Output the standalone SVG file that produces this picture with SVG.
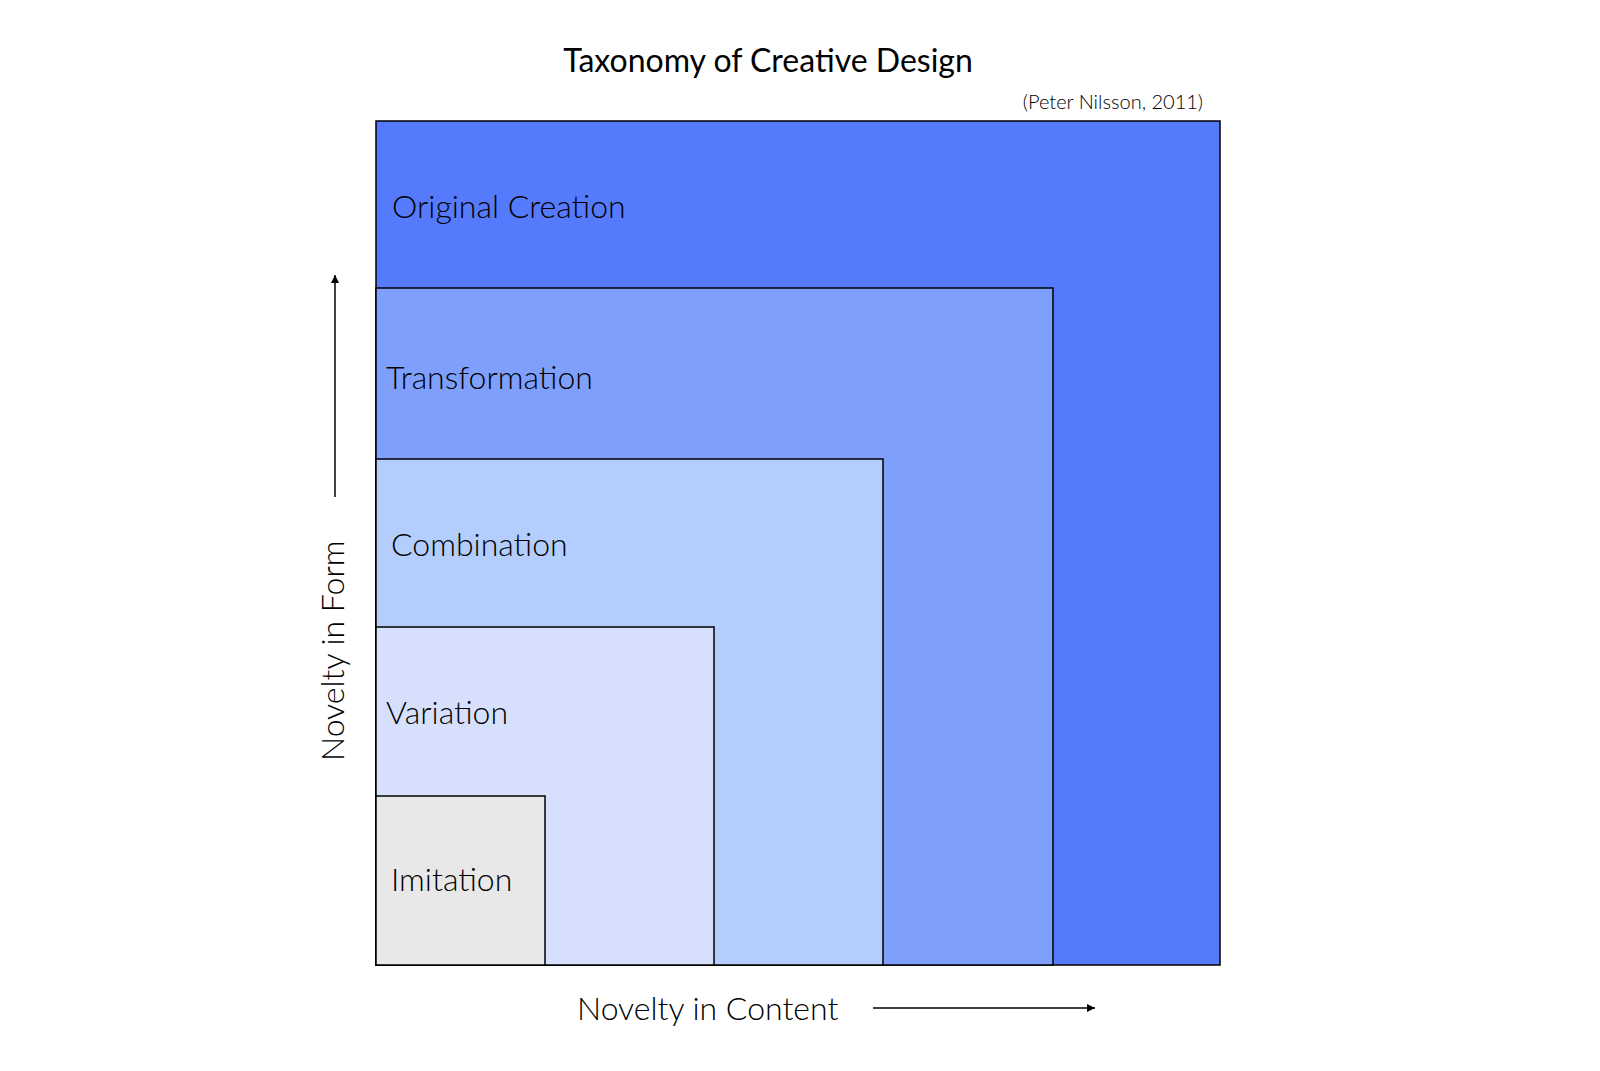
<svg xmlns="http://www.w3.org/2000/svg" width="1600" height="1071" viewBox="0 0 1600 1071">
<defs>
<style>
text{font-family:Lato,"Open Sans","Liberation Sans",sans-serif;fill:#000}
.lbl{font-size:32px;font-weight:300}
.box{stroke:#000;stroke-width:1.5}
.ax{stroke:#000;stroke-width:1.5;fill:none}
</style>
<marker id="ah" viewBox="0 0 10 10" refX="10" refY="5" markerWidth="8" markerHeight="8" orient="auto" markerUnits="userSpaceOnUse">
<path d="M0,0 L10,5 L0,10 z" fill="#000"/>
</marker>
</defs>
<rect width="1600" height="1071" fill="#fff"/>
<text x="768" y="72" text-anchor="middle" font-size="32">Taxonomy of Creative Design</text>
<text x="1203" y="109" text-anchor="end" font-size="20" font-weight="300">(Peter Nilsson, 2011)</text>
<g id="original-creation"><rect class="box" x="376" y="121" width="844" height="844" fill="#557bfc"/><text class="lbl" x="392" y="218">Original Creation</text></g>
<g id="transformation"><rect class="box" x="376" y="288" width="677" height="677" fill="#7f9ffc"/><text class="lbl" x="386" y="389">Transformation</text></g>
<g id="combination"><rect class="box" x="376" y="459" width="507" height="506" fill="#b3cdfc"/><text class="lbl" x="391" y="556">Combination</text></g>
<g id="variation"><rect class="box" x="376" y="627" width="338" height="338" fill="#d6e0fc"/><text class="lbl" x="386" y="724">Variation</text></g>
<g id="imitation"><rect class="box" x="376" y="796" width="169" height="169" fill="#e8e8e8"/><text class="lbl" x="391" y="891">Imitation</text></g>
<g id="connectors">
<line class="ax" x1="873" y1="1008" x2="1095" y2="1008" marker-end="url(#ah)"/>
<line class="ax" x1="335" y1="497" x2="335" y2="275" marker-end="url(#ah)"/>
</g>
<text class="lbl" x="577" y="1020">Novelty in Content</text>
<text class="lbl" transform="translate(344,761) rotate(-90)">Novelty in Form</text>
</svg>
